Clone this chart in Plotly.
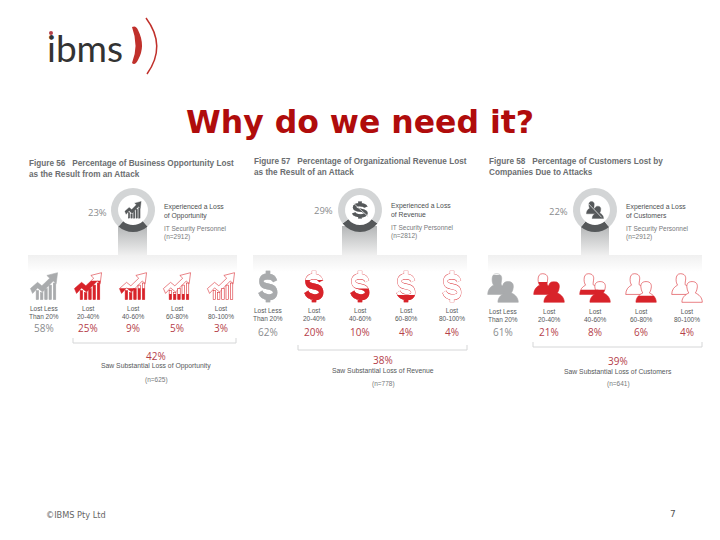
import base64
import plotly.graph_objects as go

W, H = 720, 540

# donnees
fig_titles = ["Figure 56   Percentage of Business Opportunity Lost<br>as the Result from an Attack",
              "Figure 57   Percentage of Organizational Revenue Lost<br>as the Result of an Attack",
              "Figure 58   Percentage of Customers Lost by<br>Companies Due to Attacks"]
ring_share = [23, 29, 22]
ring_labels = ["Experienced a Loss<br>of Opportunity", "Experienced a Loss<br>of Revenue", "Experienced a Loss<br>of Customers"]
staff_labels = ["IT Security Personnel<br>(n=2912)", "IT Security Personnel<br>(n=2812)", "IT Security Personnel<br>(n=2912)"]
buckets = ["Lost Less<br>Than 20%", "Lost<br>20-40%", "Lost<br>40-60%", "Lost<br>60-80%", "Lost<br>80-100%"]
opportunity_lost = [58, 25, 9, 5, 3]
revenue_lost = [62, 20, 10, 4, 4]
customers_lost = [61, 21, 8, 6, 4]
substantial = [42, 38, 39]
substantial_labels = ["Saw Substantial Loss of Opportunity", "Saw Substantial Loss of Revenue", "Saw Substantial Loss of Customers"]
sample_labels = ["(n=625)", "(n=778)", "(n=641)"]
lost_series = [opportunity_lost, revenue_lost, customers_lost]

# position de chaque panneau, en pixels
panels = [
    dict(kind="chart", tx=27, ty=169, cx=133, pct_x=97, pct_y=212, tx2=162, ty2=211, ty3=233, conn=(118, 147), band=(28, 237),
         icons=[44, 88, 133, 177, 221], icon_y=(272, 301), lab_y=312, val_y=328, br=(73, 236), br_y=343, sum_x=156, sum_y=356, cap_y=366, n_y=380),
    dict(kind="dollar", tx=252, ty=167, cx=360, pct_x=323, pct_y=210, tx2=389, ty2=210, ty3=232, conn=(342, 377), band=(253, 467),
         icons=[268, 314, 360, 406, 452], icon_y=(270, 303), lab_y=314, val_y=332, br=(298, 467), br_y=350, sum_x=383, sum_y=360, cap_y=370, n_y=384),
    dict(kind="people", tx=487, ty=167, cx=595, pct_x=558, pct_y=211, tx2=624, ty2=211, ty3=233, conn=(581, 609), band=(488, 702),
         icons=[503, 549, 595, 641, 687], icon_y=(273, 303), lab_y=315, val_y=332, br=(533, 702), br_y=347, sum_x=618, sum_y=361, cap_y=371, n_y=384),
]
ring_y, ring_r = 210, 22
fill_levels = [0.93, 0.7, 0.44, 0.24, 0.0]

GREY = "#a9abad"
RED = "#d8232a"
DARK = "#55585a"


def uri(svg):
    return "data:image/svg+xml;base64," + base64.b64encode(svg.encode()).decode()


def picture(svg, x0, y0, x1, y1, layer="above"):
    return dict(source=uri(svg), xref="paper", yref="paper", x=x0 / W, y=1 - y0 / H, sizex=(x1 - x0) / W, sizey=(y1 - y0) / H,
                xanchor="left", yanchor="top", sizing="stretch", layer=layer)


def shapes_for(kind):
    # contours des icones
    if kind == "chart":
        return ('<path d="M2 24 L12 15 L18 20 L29 9 L25 5 L40 1 L38 17 L34 13 L19 29 L12 23 L5 31 Z" {s}/>'
                '<rect x="10" y="27" width="3.5" height="13" {s}/><rect x="16" y="30" width="3.5" height="10" {s}/>'
                '<rect x="22" y="24" width="3.5" height="16" {s}/><rect x="28" y="19" width="3.5" height="21" {s}/>'
                '<rect x="34" y="16" width="3.5" height="24" {s}/>')
    return ('<path d="M13 1 C19 1 21 5 20 10 C19.5 14 19 16 20 17 C24 19 28 22 28 30 L1 30 C1 23 5 19 9 17 C8 15 7 13 7 9 C7 4 9 1 13 1 Z" {s}/>'
            '<path d="M29 12 C35 12 37 16 36 21 C35.5 25 34 27 33.5 28 C38 30 43 34 43 41 L15 41 C15 34 20 30 24.5 28 C24 27 22.5 25 22 21 C21 16 23 12 29 12 Z" {s}/>')


def icon_svg(kind, color, level):
    vb = {"chart": "0 0 42 42", "dollar": "0 0 40 44", "people": "0 0 44 42"}[kind]
    vh = int(vb.split()[3])
    cut = vh * (1 - level)
    out = f'<svg xmlns="http://www.w3.org/2000/svg" width="200" height="200" viewBox="{vb}" preserveAspectRatio="none">'
    out += f'<defs><clipPath id="c"><rect x="0" y="{cut}" width="44" height="{vh}"/></clipPath></defs>'
    if kind == "dollar":
        d = "M33 15 C30 7 8 6 8 15 C8 26 33 18 33 30 C33 39 10 38 6 29 M20 1 L20 8 M20 36 L20 43"
        big = f'<path d="{d}" fill="none" stroke="{color}" stroke-width="8"/>'
        out += big
        out += f'<path d="{d}" fill="none" stroke="#fff" stroke-width="7"/>'
        out += f'<g clip-path="url(#c)">{big}</g>'
    else:
        body = shapes_for(kind)
        outline = body.format(s=f'fill="#fff" stroke="{color}" stroke-width="0.8"')
        solid = body.format(s=f'fill="{color}"')
        out += outline + f'<g clip-path="url(#c)">{solid}</g>'
    return out + "</svg>"


def ring_icon(kind):
    base = icon_svg(kind, DARK, 1.0)
    if kind == "chart":
        return base
    return base.replace("</svg>", '<path d="M6 6 L38 38" stroke="#fff" stroke-width="2"/><path d="M6 6 L38 38" stroke="#55585a" stroke-width="0.7"/></svg>')


def gradient(top, bottom):
    return (f'<svg xmlns="http://www.w3.org/2000/svg" width="100" height="100" preserveAspectRatio="none" viewBox="0 0 100 100">'
            f'<defs><linearGradient id="g" x1="0" y1="0" x2="0" y2="1"><stop offset="0" stop-color="{top}"/>'
            f'<stop offset="1" stop-color="{bottom}"/></linearGradient></defs><rect width="100" height="100" fill="url(#g)"/></svg>')


fig = go.Figure()
images, shapes, notes = [], [], []


def text(x, y, s, size, color, anchor="left", bold=False, font="Liberation Sans", align=None):
    notes.append(dict(x=x, y=y, xref="x", yref="y", text=f"<b>{s}</b>" if bold else s, showarrow=False, xanchor=anchor, yanchor="middle",
                      align=align or anchor, font=dict(size=size, color=color, family=font)))


# axe invisible en pixels
fig.add_trace(go.Scatter(x=[0, W], y=[0, H], mode="markers", marker=dict(opacity=0), hoverinfo="skip", showlegend=False))

for p, title, share, lab1, lab2, lost, total, cap, n in zip(panels, fig_titles, ring_share, ring_labels, staff_labels,
                                                           lost_series, substantial, substantial_labels, sample_labels):
    text(p["tx"], p["ty"], title, 8.2, "#6b6e70", bold=True)

    # degrades sous l'anneau
    images.append(picture(gradient("#b4b6b7", "#efefef"), p["conn"][0], 226, p["conn"][1], 255, layer="below"))
    images.append(picture(gradient("#f0f0f0", "#ffffff"), p["band"][0], 255, p["band"][1], 272, layer="below"))

    fig.add_trace(go.Pie(values=[share, 100 - share], sort=False, direction="clockwise", rotation=180 - share * 1.8, hole=0.68,
                         marker=dict(colors=[DARK, "#d3d5d6"]), textinfo="none", hoverinfo="skip", showlegend=False,
                         domain=dict(x=[(p["cx"] - ring_r) / W, (p["cx"] + ring_r) / W], y=[1 - (ring_y + ring_r) / H, 1 - (ring_y - ring_r) / H])))
    images.append(picture(ring_icon(p["kind"]), p["cx"] - 9, ring_y - 9, p["cx"] + 9, ring_y + 9))

    text(p["pct_x"], p["pct_y"], f"{share}%", 9.5, "#8a8c8e", anchor="center", font="Open Sans")
    text(p["tx2"], p["ty2"], lab1, 6.8, "#4c4e50")
    text(p["tx2"], p["ty3"], lab2, 6.5, "#77797b")

    half = {"chart": 15, "dollar": 11, "people": 16}[p["kind"]]
    for i, (x, b, v, lev) in enumerate(zip(p["icons"], buckets, lost, fill_levels)):
        color = GREY if i == 0 else RED
        level = 1.0 if i == 0 and p["kind"] != "people" else lev
        images.append(picture(icon_svg(p["kind"], color, level), x - half, p["icon_y"][0], x + half, p["icon_y"][1]))
        text(x, p["lab_y"], b, 6.5, "#55585a", anchor="center", align="center")
        text(x, p["val_y"], f"{v}%", 10, "#8a8c8e" if i == 0 else "#b5404a", anchor="center", font="Open Sans")

    x0, x1 = p["br"]
    y = p["br_y"]
    shapes.append(dict(type="path", path=f"M{x0} {y - 5} L{x0} {y} L{x1} {y} L{x1} {y - 5}", xref="x", yref="y", line=dict(color="#d5d6d7", width=1)))
    text(p["sum_x"], p["sum_y"], f"{total}%", 10, "#b5404a", anchor="center", font="Open Sans")
    text(p["sum_x"], p["cap_y"], cap, 6.8, "#55585a", anchor="center")
    text(p["sum_x"], p["n_y"], n, 6.5, "#77797b", anchor="center")

# en-tete et pied de page
text(360, 122, "Why do we need it?", 31.5, "#b00c0c", anchor="center", bold=True, font="DejaVu Sans")
text(45, 47, "ibms", 37, "#333333", font="Lato")
text(44, 515, "©IBMS Pty Ltd", 8.2, "#666666", font="DejaVu Sans")
text(673, 514, "7", 9, "#555555", anchor="center", font="DejaVu Sans")
shapes.append(dict(type="circle", x0=49, x1=53, y0=31, y1=35, xref="x", yref="y", fillcolor="#b5404a", line=dict(width=0), layer="above"))
shapes.append(dict(type="path", path="M132 27 Q136 25 138 30 Q146 46 138 60 Q135 66 132 63 Q139 46 132 27 Z", xref="x", yref="y",
                   fillcolor="#c0302b", line=dict(width=0)))
shapes.append(dict(type="path", path="M146 18 Q167 46 147 74", xref="x", yref="y", line=dict(color="#c0302b", width=1.5)))

fig.update_layout(width=W, height=H, margin=dict(l=0, r=0, t=0, b=0), paper_bgcolor="white", plot_bgcolor="rgba(0,0,0,0)",
                  xaxis=dict(range=[0, W], visible=False, fixedrange=True),
                  yaxis=dict(range=[H, 0], visible=False, fixedrange=True),
                  images=images, shapes=shapes, annotations=notes)
# la page garde sinon sa marge de 8 px
fig.write_html("out.html", config={"displayModeBar": False}, post_script="document.body.style.margin='0';")
